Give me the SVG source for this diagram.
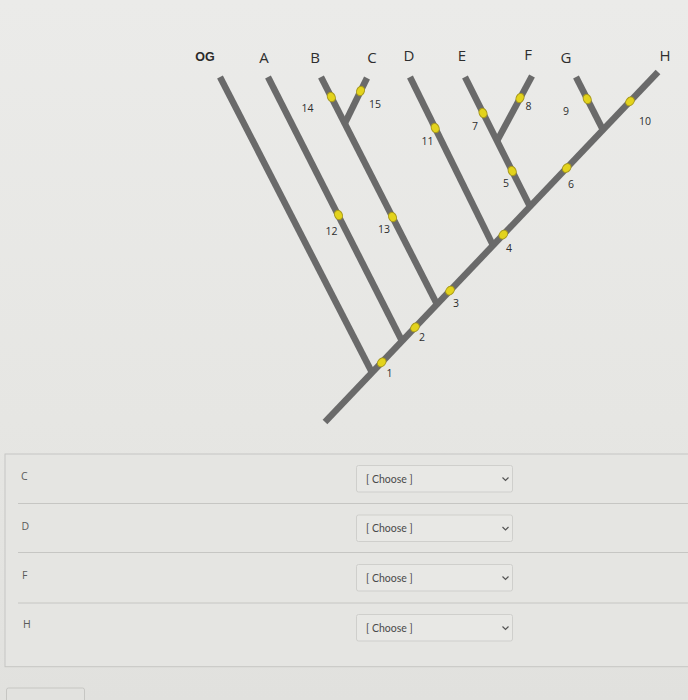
<svg xmlns="http://www.w3.org/2000/svg" width="688" height="700" viewBox="0 0 688 700">
  <defs>
    <linearGradient id="bg" x1="0" y1="0" x2="0" y2="1">
      <stop offset="0" stop-color="#ebebe9"/>
      <stop offset="0.6" stop-color="#e6e6e3"/>
      <stop offset="1" stop-color="#e1e1de"/>
    </linearGradient>
    <style>
      .br { stroke: #6a6a6a; stroke-width: 6.5; fill: none; stroke-linecap: butt; }
      .dot { fill: #e3d31c; stroke: #a99a1a; stroke-width: 1; }
      .tip { font-family: "Open Sans", "Liberation Sans", sans-serif; font-size: 15px; fill: #2e2e2e; text-anchor: middle; }
      .og { font-family: "Liberation Sans", sans-serif; font-size: 12.5px; font-weight: bold; fill: #2a2a2a; text-anchor: middle; }
      .num { font-family: "Open Sans", "Liberation Sans", sans-serif; font-size: 10.5px; fill: #2e2e2e; text-anchor: middle; }
      .row { font-family: "Open Sans", "Liberation Sans", sans-serif; font-size: 10.5px; fill: #5a5a5a; }
      .sel { fill: #e8e8e5; stroke: #cfcfcc; stroke-width: 1; }
      .seltxt { font-family: "Lato", "Liberation Sans", sans-serif; font-size: 10.5px; fill: #4a4a4a; }
      .chev { fill: none; stroke: #555; stroke-width: 1.2; }
      .sep { stroke: #c6c6c3; stroke-width: 1; }
    </style>
  </defs>
  <rect x="0" y="0" width="688" height="700" fill="url(#bg)"/>

  <!-- connectors: tree branches -->
  <g id="connectors">
    <line class="br" x1="325" y1="422" x2="658" y2="72"/>
    <line class="br" x1="220" y1="77" x2="372" y2="372.6"/>
    <line class="br" x1="268" y1="77" x2="402" y2="341"/>
    <line class="br" x1="321" y1="77" x2="437" y2="304.3"/>
    <line class="br" x1="345" y1="123" x2="367" y2="78"/>
    <line class="br" x1="410" y1="77" x2="493" y2="245.4"/>
    <line class="br" x1="465" y1="77" x2="530" y2="206.5"/>
    <line class="br" x1="497" y1="141" x2="532" y2="76"/>
    <line class="br" x1="576" y1="77" x2="603" y2="130"/>
  </g>

  <!-- tip labels -->
  <g id="tip-OG"><text class="og" x="205" y="61">OG</text></g>
  <g id="tip-A"><text class="tip" x="264" y="63">A</text></g>
  <g id="tip-B"><text class="tip" x="315" y="63">B</text></g>
  <g id="tip-C"><text class="tip" x="372" y="63">C</text></g>
  <g id="tip-D"><text class="tip" x="409" y="61">D</text></g>
  <g id="tip-E"><text class="tip" x="462" y="61">E</text></g>
  <g id="tip-F"><text class="tip" x="528" y="60">F</text></g>
  <g id="tip-G"><text class="tip" x="566" y="63">G</text></g>
  <g id="tip-H"><text class="tip" x="665" y="61">H</text></g>

  <!-- character marks -->
  <g id="mark-1"><ellipse class="dot" cx="381.7" cy="362.4" rx="3.8" ry="4.8" transform="rotate(43 381.7 362.4)"/><text class="num" x="389.5" y="377">1</text></g>
  <g id="mark-2"><ellipse class="dot" cx="415" cy="327.4" rx="3.8" ry="4.8" transform="rotate(43 415 327.4)"/><text class="num" x="422" y="341">2</text></g>
  <g id="mark-3"><ellipse class="dot" cx="450" cy="290.6" rx="3.8" ry="4.8" transform="rotate(43 450 290.6)"/><text class="num" x="456" y="307">3</text></g>
  <g id="mark-4"><ellipse class="dot" cx="503.3" cy="234.6" rx="3.8" ry="4.8" transform="rotate(43 503.3 234.6)"/><text class="num" x="509" y="252">4</text></g>
  <g id="mark-5"><ellipse class="dot" cx="512.2" cy="171" rx="3.8" ry="4.8" transform="rotate(-27 512.2 171)"/><text class="num" x="506" y="187">5</text></g>
  <g id="mark-6"><ellipse class="dot" cx="566.7" cy="168" rx="3.8" ry="4.8" transform="rotate(43 566.7 168)"/><text class="num" x="571" y="188">6</text></g>
  <g id="mark-7"><ellipse class="dot" cx="483" cy="113" rx="3.8" ry="4.8" transform="rotate(-27 483 113)"/><text class="num" x="475" y="130">7</text></g>
  <g id="mark-8"><ellipse class="dot" cx="520" cy="98" rx="3.8" ry="4.8" transform="rotate(28 520 98)"/><text class="num" x="528.5" y="110">8</text></g>
  <g id="mark-9"><ellipse class="dot" cx="587.2" cy="99" rx="3.8" ry="4.8" transform="rotate(-27 587.2 99)"/><text class="num" x="566" y="114.5">9</text></g>
  <g id="mark-10"><ellipse class="dot" cx="630" cy="101.4" rx="3.8" ry="4.8" transform="rotate(43 630 101.4)"/><text class="num" x="645" y="125">10</text></g>
  <g id="mark-11"><ellipse class="dot" cx="435.2" cy="128" rx="3.8" ry="4.8" transform="rotate(-27 435.2 128)"/><text class="num" x="427.5" y="145">11</text></g>
  <g id="mark-12"><ellipse class="dot" cx="338.5" cy="215" rx="3.8" ry="4.8" transform="rotate(-27 338.5 215)"/><text class="num" x="331.5" y="234.5">12</text></g>
  <g id="mark-13"><ellipse class="dot" cx="392.5" cy="217" rx="3.8" ry="4.8" transform="rotate(-27 392.5 217)"/><text class="num" x="384" y="233">13</text></g>
  <g id="mark-14"><ellipse class="dot" cx="331.3" cy="97" rx="3.8" ry="4.8" transform="rotate(-27 331.3 97)"/><text class="num" x="307.5" y="112">14</text></g>
  <g id="mark-15"><ellipse class="dot" cx="360.5" cy="91" rx="3.8" ry="4.8" transform="rotate(26 360.5 91)"/><text class="num" x="375" y="108">15</text></g>

  <!-- answer form -->
  <g id="form">
    <rect x="5" y="454" width="700" height="212.7" fill="#e5e5e2" stroke="#c6c6c3" stroke-width="1"/>
    <line class="sep" x1="18" y1="503.5" x2="688" y2="503.5"/>
    <line class="sep" x1="18" y1="552.5" x2="688" y2="552.5"/>
    <line class="sep" x1="18" y1="603" x2="688" y2="603"/>
  </g>

  <g id="row-C">
    <text class="row" x="21" y="480">C</text>
    <rect class="sel" x="356.5" y="465.5" width="156" height="26.5" rx="2"/>
    <text class="seltxt" x="366" y="482.5">[ Choose ]</text>
    <polyline class="chev" points="502.5,477.5 505.5,480.5 508.5,477.5"/>
  </g>
  <g id="row-D">
    <text class="row" x="21.5" y="530">D</text>
    <rect class="sel" x="356.5" y="515" width="156" height="26.5" rx="2"/>
    <text class="seltxt" x="366" y="532">[ Choose ]</text>
    <polyline class="chev" points="502.5,527 505.5,530 508.5,527"/>
  </g>
  <g id="row-F">
    <text class="row" x="22" y="579">F</text>
    <rect class="sel" x="356.5" y="564.5" width="156" height="26.5" rx="2"/>
    <text class="seltxt" x="366" y="581.5">[ Choose ]</text>
    <polyline class="chev" points="502.5,576.5 505.5,579.5 508.5,576.5"/>
  </g>
  <g id="row-H">
    <text class="row" x="23" y="628">H</text>
    <rect class="sel" x="356.5" y="614.5" width="156" height="26.5" rx="2"/>
    <text class="seltxt" x="366" y="631.5">[ Choose ]</text>
    <polyline class="chev" points="502.5,626.5 505.5,629.5 508.5,626.5"/>
  </g>

  <g id="button-previous">
    <rect x="6.5" y="688" width="78" height="20" rx="2" fill="#e2e2df" stroke="#c6c6c3" stroke-width="1"/>
  </g>
</svg>
